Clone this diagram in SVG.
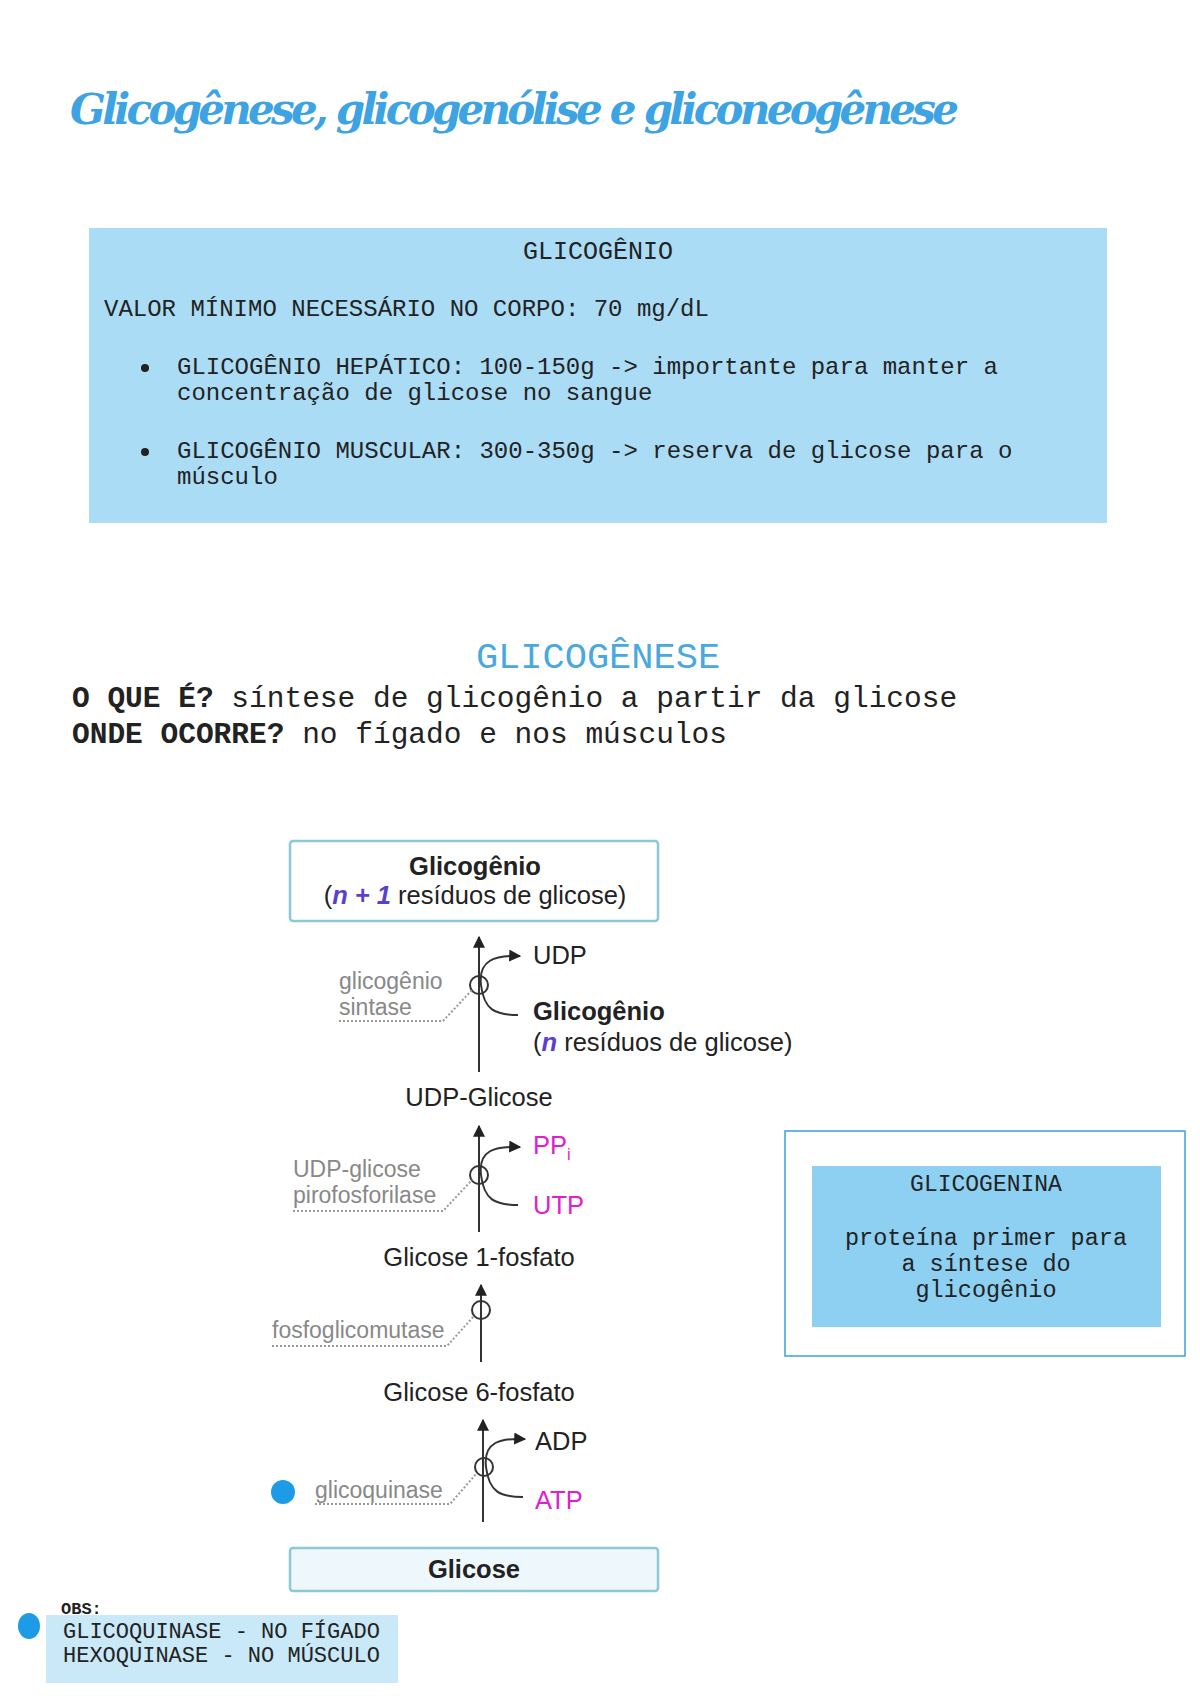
<svg xmlns="http://www.w3.org/2000/svg" width="1200" height="1696" viewBox="0 0 1200 1696">
<style>
.m{font-family:"Liberation Mono","Courier New",monospace;fill:#222}
.s{font-family:"Liberation Sans",Arial,sans-serif;fill:#222;font-size:25.5px}
.g{font-family:"Liberation Sans",Arial,sans-serif;fill:#888;font-size:23px}
.p{fill:#e020d0}
.ln{stroke:#333;stroke-width:2;fill:none}
.dot{stroke:#999;stroke-width:2;stroke-dasharray:2 2;fill:none}
</style>
<defs><marker id="a" viewBox="0 0 10 10" refX="9" refY="5" markerWidth="6" markerHeight="6" orient="auto"><path d="M0,0L10,5L0,10z" fill="#222"/></marker></defs>
<rect width="1200" height="1696" fill="#fff"/>
<text x="70" y="124" font-family="DejaVu Serif,serif" font-style="italic" font-weight="bold" font-size="42" fill="#3da3e3" textLength="889">Glicogênese, glicogenólise e gliconeogênese</text>
<g id="box1">
<rect x="89" y="228" width="1018" height="295" fill="#abdcf5"/>
<text class="m" x="598" y="259" font-size="25" text-anchor="middle">GLICOGÊNIO</text>
<text class="m" x="104" y="316" font-size="24">VALOR MÍNIMO NECESSÁRIO NO CORPO: 70 mg/dL</text>
<circle cx="145" cy="368" r="4" fill="#222"/>
<text class="m" x="177" y="374" font-size="24">GLICOGÊNIO HEPÁTICO: 100-150g -&gt; importante para manter a</text>
<text class="m" x="177" y="400" font-size="24">concentração de glicose no sangue</text>
<circle cx="145" cy="452" r="4" fill="#222"/>
<text class="m" x="177" y="458" font-size="24">GLICOGÊNIO MUSCULAR: 300-350g -&gt; reserva de glicose para o</text>
<text class="m" x="177" y="484" font-size="24">músculo</text>
</g>
<g id="sec">
<text x="598" y="668" font-family="Liberation Mono,monospace" font-size="37" fill="#4aa8e0" text-anchor="middle">GLICOGÊNESE</text>
<text class="m" x="72" y="707" font-size="29.5"><tspan font-weight="bold">O QUE É?</tspan> síntese de glicogênio a partir da glicose</text>
<text class="m" x="72" y="743" font-size="29.5"><tspan font-weight="bold">ONDE OCORRE?</tspan> no fígado e nos músculos</text>
</g>
<g id="n-glicogenio">
<rect x="290" y="841" width="368" height="80" rx="3" fill="#fff" stroke="#8cc8d8" stroke-width="2.5"/>
<text class="s" x="475" y="875" text-anchor="middle" font-weight="bold">Glicogênio</text>
<text class="s" x="475" y="904" text-anchor="middle">(<tspan fill="#5a3fd0" font-weight="bold" font-style="italic">n + 1</tspan> resíduos de glicose)</text>
</g>
<g id="connectors">
<line class="ln" x1="479" y1="1072" x2="479" y2="937" marker-end="url(#a)"/>
<circle class="ln" cx="479" cy="985" r="9"/>
<path class="ln" d="M481,985 C478,960 495,955 520,956" marker-end="url(#a)"/>
<path class="ln" d="M481,985 C484,1010 495,1015 518,1015"/>
<path class="dot" d="M339,1021 H443 L472,990"/>
<line class="ln" x1="479" y1="1232" x2="479" y2="1126" marker-end="url(#a)"/>
<circle class="ln" cx="479" cy="1175" r="9"/>
<path class="ln" d="M481,1175 C478,1150 495,1146 520,1147" marker-end="url(#a)"/>
<path class="ln" d="M481,1175 C484,1200 495,1205 518,1205"/>
<path class="dot" d="M293,1211 H443 L472,1180"/>
<line class="ln" x1="481" y1="1362" x2="481" y2="1285" marker-end="url(#a)"/>
<circle class="ln" cx="481" cy="1310" r="9"/>
<path class="dot" d="M272,1346 H447 L474,1316"/>
<line class="ln" x1="483" y1="1522" x2="483" y2="1420" marker-end="url(#a)"/>
<circle class="ln" cx="484" cy="1467" r="9"/>
<path class="ln" d="M486,1467 C483,1442 500,1438 525,1439" marker-end="url(#a)"/>
<path class="ln" d="M486,1467 C489,1492 500,1497 523,1497"/>
<path class="dot" d="M315,1504 H450 L477,1473"/>
</g>
<g id="labels">
<text class="s" x="533" y="964">UDP</text>
<text class="s" x="533" y="1020" font-weight="bold">Glicogênio</text>
<text class="s" x="533" y="1051">(<tspan fill="#5a3fd0" font-weight="bold" font-style="italic">n</tspan> resíduos de glicose)</text>
<text class="g" x="339" y="989">glicogênio</text>
<text class="g" x="339" y="1015">sintase</text>
<text class="s" x="479" y="1106" text-anchor="middle">UDP-Glicose</text>
<text class="s p" x="533" y="1154">PP<tspan font-size="16" dy="6">i</tspan></text>
<text class="s p" x="533" y="1214">UTP</text>
<text class="g" x="293" y="1177">UDP-glicose</text>
<text class="g" x="293" y="1203">pirofosforilase</text>
<text class="s" x="479" y="1266" text-anchor="middle">Glicose 1-fosfato</text>
<text class="g" x="272" y="1338">fosfoglicomutase</text>
<text class="s" x="479" y="1401" text-anchor="middle">Glicose 6-fosfato</text>
<text class="s" x="535" y="1450">ADP</text>
<text class="s p" x="535" y="1509">ATP</text>
<text class="g" x="315" y="1498">glicoquinase</text>
<circle cx="283" cy="1492" r="12" fill="#1e9be6"/>
</g>
<g id="n-glicose">
<rect x="290" y="1548" width="368" height="43" rx="3" fill="#eef8fc" stroke="#8cc8d8" stroke-width="2.5"/>
<text class="s" x="474" y="1578" text-anchor="middle" font-weight="bold">Glicose</text>
</g>
<g id="obs">
<rect x="46" y="1615" width="352" height="68" fill="#c9e8f8"/>
<text class="m" x="61" y="1614" font-size="17" font-weight="bold">OBS:</text>
<text class="m" x="63" y="1638" font-size="22">GLICOQUINASE - NO FÍGADO</text>
<text class="m" x="63" y="1662" font-size="22">HEXOQUINASE - NO MÚSCULO</text>
<ellipse cx="29" cy="1626" rx="11" ry="13" fill="#1e9be6"/>
</g>
<g id="glicogenina">
<rect x="785" y="1131" width="400" height="225" fill="#fff" stroke="#3aa0e0" stroke-width="1.5"/>
<rect x="812" y="1166" width="349" height="161" fill="#8dd0f2"/>
<text class="m" x="986" y="1191" font-size="23" text-anchor="middle">GLICOGENINA</text>
<text class="m" x="986" y="1245" font-size="23.5" text-anchor="middle">proteína primer para</text>
<text class="m" x="986" y="1271" font-size="23.5" text-anchor="middle">a síntese do</text>
<text class="m" x="986" y="1297" font-size="23.5" text-anchor="middle">glicogênio</text>
</g>
</svg>
